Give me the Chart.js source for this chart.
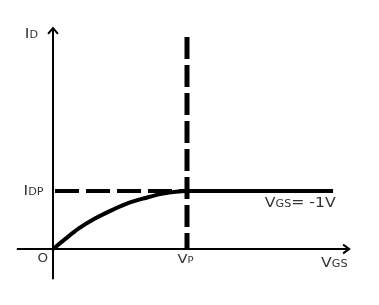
<!DOCTYPE html>
<html>
<head>
<meta charset="utf-8">
<script src="https://cdn.jsdelivr.net/npm/chart.js@4/dist/chart.umd.min.js"></script>
<style>
  html, body { margin: 0; padding: 0; background: #fff; }
  #wrap { width: 379px; height: 305px; position: relative; }
</style>
</head>
<body>
<div id="wrap"><canvas id="chart"></canvas></div>
<script>
// V_GS / V_P and I_D / I_DP
const vgsRatio = [0, 0.09, 0.19, 0.31, 0.44, 0.56, 0.69, 0.81, 1, 2.09];
const idRatio = [0, 0.17, 0.35, 0.52, 0.67, 0.79, 0.88, 0.95, 1, 1];

// axis extents (in the same units)
const xAxisRange = [-0.27, 2.21];
const yAxisRange = [-0.52, 3.81];

// pinch-off markers
const vpLine = [3.655, 0];
const idpLine = [0.015, 1];

function pts(xs, ys) {
  return xs.map(function (x, i) { return { x: x, y: ys[i] }; });
}

const black = '#000';

const labels = {
  id: 'afterDraw',
  afterDraw: function (chart) {
    const ctx = chart.ctx;
    const xs = chart.scales.x, ys = chart.scales.y;
    const stretch = 1.12;
    function put(vx, vy, parts) {
      const px = xs.getPixelForValue(vx);
      const py = ys.getPixelForValue(vy);
      ctx.save();
      ctx.translate(px, py);
      ctx.scale(stretch, 1);
      let dx = 0;
      parts.forEach(function (p) {
        ctx.font = p[1] + 'px "DejaVu Sans"';
        ctx.fillText(p[0], dx, 0);
        dx += ctx.measureText(p[0]).width;
      });
      ctx.restore();
    }
    ctx.save();
    ctx.fillStyle = '#333';
    ctx.textBaseline = 'alphabetic';
    put(-0.21, 3.64, [['I', 14], ['D', 10]]);
    put(-0.22, 0.93, [['I', 14], ['DP', 10]]);
    put(-0.115, -0.23, [['O', 12]]);
    put(0.93, -0.24, [['V', 13], ['P', 9]]);
    put(2.0, -0.31, [['V', 14], ['GS', 10]]);
    put(1.58, 0.72, [['V', 14], ['GS', 10], ['= -1V', 14]]);
    ctx.restore();
  }
};

new Chart(document.getElementById('chart'), {
  type: 'scatter',
  data: {
    datasets: [
      {
        data: pts(xAxisRange, [0, 0]),
        borderColor: black, borderWidth: 2
      },
      {
        data: pts([0, 0], yAxisRange),
        borderColor: black, borderWidth: 2
      },
      {
        data: pts([xAxisRange[1] - 0.045, xAxisRange[1], xAxisRange[1] - 0.045], [0.075, 0, -0.075]),
        borderColor: black, borderWidth: 2
      },
      {
        data: pts([-0.037, 0, 0.037], [yAxisRange[1] - 0.1, yAxisRange[1], yAxisRange[1] - 0.1]),
        borderColor: black, borderWidth: 2
      },
      {
        data: pts([1, 1], vpLine),
        borderColor: black, borderWidth: 5, borderDash: [22, 6]
      },
      {
        data: pts(idpLine, [1, 1]),
        borderColor: black, borderWidth: 4, borderDash: [24, 7]
      },
      {
        data: pts(vgsRatio, idRatio),
        borderColor: black, borderWidth: 4,
        cubicInterpolationMode: 'monotone'
      }
    ]
  },
  options: {
    responsive: true,
    maintainAspectRatio: false,
    animation: false,
    showLine: true,
    layout: { padding: 0 },
    elements: { point: { radius: 0, hoverRadius: 0 }, line: { borderCapStyle: 'butt', fill: false } },
    scales: {
      x: { type: 'linear', display: false, min: -53 / 134, max: 326 / 134 },
      y: { type: 'linear', display: false, min: -56 / 58, max: 249 / 58 }
    },
    plugins: {
      legend: { display: false },
      tooltip: { enabled: false }
    }
  },
  plugins: [labels]
});
</script>
</body>
</html>
